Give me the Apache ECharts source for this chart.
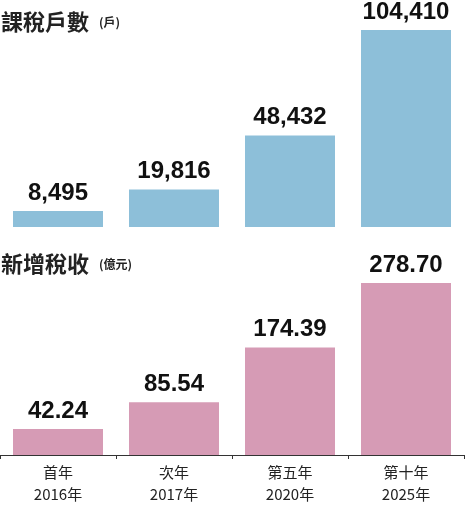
<!DOCTYPE html><html><head><meta charset="utf-8"><script src="https://cdn.jsdelivr.net/npm/echarts@6/dist/echarts.min.js"></script>
<style>body{margin:0}#c{width:474px;height:509px}</style></head><body><div id="c"></div><script>
const categories=['首年\n2016年','次年\n2017年','第五年\n2020年','第十年\n2025年'];
const households=[8495,19816,48432,104410];
const revenue=[42.24,85.54,174.39,278.70];
const F='"Noto Sans CJK TC","Liberation Sans",sans-serif';
const chart=echarts.init(document.getElementById('c'));
const lbl=(fmt)=>({show:true,position:'top',distance:6,color:'#111',fontSize:24,fontWeight:'bold',fontFamily:'"Liberation Sans",Arial',formatter:fmt});
chart.setOption({
 animation:false,
 title:[
  {text:'{a|課稅戶數}  {b|(戶)}',left:-4,top:6,textStyle:{rich:{a:{fontSize:22,fontWeight:'bold',color:'#222',fontFamily:F},b:{fontSize:12,color:'#222',fontFamily:F}}}},
  {text:'{a|新增稅收}  {b|(億元)}',left:-4,top:248,textStyle:{rich:{a:{fontSize:22,fontWeight:'bold',color:'#222',fontFamily:F},b:{fontSize:12,color:'#222',fontFamily:F}}}}
 ],
 grid:[{left:0,width:464,top:30,height:197},{left:0,width:464,top:283,height:172}],
 xAxis:[
  {gridIndex:0,type:'category',data:categories,axisLine:{show:false},axisTick:{show:false},axisLabel:{show:false}},
  {gridIndex:1,type:'category',data:categories,axisLine:{lineStyle:{color:'#333'}},axisTick:{show:true,length:4,lineStyle:{color:'#333'}},axisLabel:{color:'#222',fontSize:15,lineHeight:22,fontFamily:F,margin:6}}
 ],
 yAxis:[
  {gridIndex:0,type:'value',min:0,max:104410,show:false},
  {gridIndex:1,type:'value',min:0,max:278.70,show:false}
 ],
 series:[
  {type:'bar',xAxisIndex:0,yAxisIndex:0,data:households,barWidth:90,itemStyle:{color:'#8dbfd9'},label:lbl(p=>p.value.toLocaleString('en-US'))},
  {type:'bar',xAxisIndex:1,yAxisIndex:1,data:revenue,barWidth:90,itemStyle:{color:'#d69bb5'},label:lbl(p=>p.value.toFixed(2))}
 ]
});
</script></body></html>
